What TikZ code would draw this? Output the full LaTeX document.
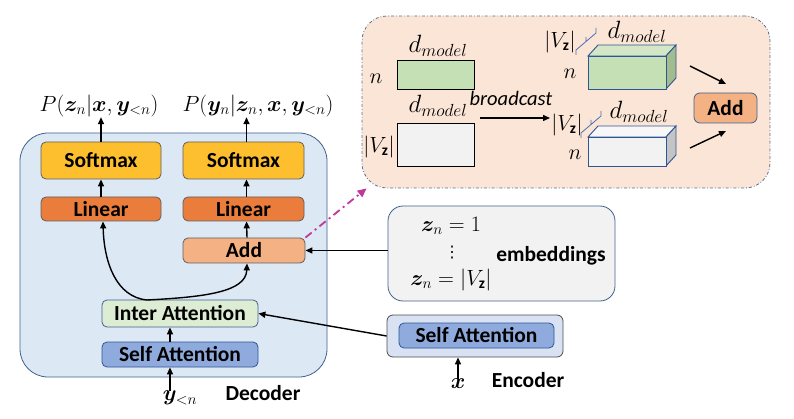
\RequirePackage{fix-cm}
\documentclass[tikz,border=0pt]{standalone}
\usepackage{amsmath}
\usepackage{bm}
\usepackage{fontspec}
\setmainfont{Carlito}
\newfontfamily\dejavufam{DejaVu Sans}
\usetikzlibrary{arrows.meta}
\definecolor{decfill}{HTML}{DDE8F5}
\definecolor{decline}{HTML}{41618F}
\definecolor{smfill}{HTML}{FDBF2E}
\definecolor{linfill}{HTML}{EB7D3C}
\definecolor{addfill}{HTML}{F4B183}
\definecolor{interfill}{HTML}{DDEDD3}
\definecolor{selffill}{HTML}{8FAADC}
\definecolor{encfill}{HTML}{D9E2F3}
\definecolor{embfill}{HTML}{F2F2F2}
\definecolor{panelfill}{HTML}{FBE5D6}
\definecolor{panelline}{HTML}{5B6F8F}
\definecolor{greenfill}{HTML}{C5E0B4}
\definecolor{greentop}{HTML}{D3E7C6}
\definecolor{greenside}{HTML}{A3BC8E}
\definecolor{whitefill}{HTML}{F2F2F2}
\definecolor{whitetop}{HTML}{F7F7F7}
\definecolor{whiteside}{HTML}{C4C4C4}
\definecolor{cubeline}{HTML}{2F5597}
\definecolor{bracecol}{HTML}{4A6FB5}
\definecolor{magentaline}{HTML}{C0399A}
\definecolor{boxline}{HTML}{5F5F5F}
\begin{document}
\begin{tikzpicture}[x=1pt,y=-1pt,
  every node/.style={font=\fontsize{20}{24}\selectfont, inner sep=0pt},
  blk/.style={draw=boxline, line width=0.8pt, rounded corners=5pt, font=\fontsize{21.5}{24}\selectfont\bfseries},
  arr/.style={line width=1.4pt, -{Triangle[length=7pt,width=6pt]}},
  lbl/.style={font=\fontsize{22}{26}\selectfont},
  dlbl/.style={font=\fontsize{25}{28}\selectfont},
  blbl/.style={font=\fontsize{21.5}{24}\selectfont\bfseries},
]
\useasboundingbox (0,0) rectangle (794,419);

% ---------- decoder ----------
\node[draw=decline, fill=decfill, line width=0.8pt, rounded corners=28pt,
      minimum width=307pt, minimum height=244pt] (dec) at (173.5,255) {};
\node[blk, fill=smfill, minimum width=120pt, minimum height=37pt] (smL) at (101,160.5) {Softmax};
\node[blk, fill=smfill, minimum width=121pt, minimum height=37pt] (smR) at (243.5,160.5) {Softmax};
\node[blk, fill=linfill, minimum width=120pt, minimum height=24pt] (linL) at (101,209) {Linear};
\node[blk, fill=linfill, minimum width=121pt, minimum height=24pt] (linR) at (243.5,209) {Linear};
\node[blk, fill=addfill, minimum width=122pt, minimum height=25pt] (addD) at (244,250.5) {Add};
\node[blk, draw=decline, fill=interfill, minimum width=156pt, minimum height=27pt] (inter) at (180,313.5) {Inter Attention};
\node[blk, draw=cubeline, fill=selffill, minimum width=156pt, minimum height=25pt] (selfD) at (180,354.5) {Self Attention};

\node[lbl] (pz) at (99,106) {$P(\bm{z}_n|\bm{x},\bm{y}_{<n})$};
\node[lbl] (py) at (258,106) {$P(\bm{y}_n|\bm{z}_n,\bm{x},\bm{y}_{<n})$};
\node[lbl] (ylab) at (180,398) {$\bm{y}_{<n}$};
\node[blbl] (declab) at (263,393) {Decoder};

\draw[arr] (smL.north) -- (smL.north |- pz.south);
\draw[arr] ([xshift=3pt]smR.north) -- ([xshift=3pt]smR.north |- py.south);
\draw[arr] (linL.north) -- (smL.south);
\draw[arr] ([xshift=3pt]linR.north) -- ([xshift=3pt]smR.south);
\draw[arr] ([xshift=3pt]addD.north) -- ([xshift=3pt]linR.south);
\draw[arr] ([xshift=-10pt]selfD.north) -- ([xshift=-10pt]inter.south);
\draw[arr] ([xshift=-10pt]selfD.south |- ylab.north) -- ([xshift=-10pt]selfD.south);

\coordinate (fork) at (147,300);
\draw[arr] (fork) .. controls (116,297) and (104,262) .. ([xshift=2pt]linL.south);
\draw[arr] (fork) .. controls (205,297) and (246,292) .. ([xshift=3pt]addD.south);

% ---------- embeddings ----------
\node[draw=decline, fill=embfill, line width=0.8pt, rounded corners=15pt,
      minimum width=227pt, minimum height=95pt] (emb) at (501.5,253.5) {};
\node[lbl] (z1) at (451,226) {$\bm{z}_n=1$};
\node[font=\fontsize{16}{16}\selectfont\dejavufam] (vd) at (452,253) {⋮};
\node[lbl] (zV) at (451,280) {$\bm{z}_n=|V_{\mathbf{z}}|$};
\node[blbl] (embtxt) at (551,256) {embeddings};
\draw[arr] (emb.west |- addD.east) -- (addD.east);

% ---------- encoder ----------
\node[draw=boxline!80!black, fill=encfill, line width=0.8pt, rounded corners=6pt,
      minimum width=176pt, minimum height=42pt] (enc) at (475,336) {};
\node[blk, draw=cubeline, fill=selffill, minimum width=155pt, minimum height=25pt] (selfE) at (476.5,335.5) {Self Attention};
\node[lbl] (xlab) at (458,384) {$\bm{x}$};
\node[blbl] (enclab) at (528,380) {Encoder};
\draw[arr] (xlab.north) -- (xlab.north |- enc.south);
\draw[arr] (enc.west) -- (inter.east);

% ---------- top panel ----------
\node[draw=panelline, fill=panelfill, line width=0.8pt, dash dot, rounded corners=25pt,
      minimum width=408pt, minimum height=172pt] (panel) at (566,102) {};
\draw[magentaline, line width=1.8pt, dash pattern=on 8pt off 4pt on 2pt off 4pt, -{Triangle[length=9pt,width=8pt]}]
  (addD.north east) -- ([xshift=5pt]panel.south west);

\node[draw=black, fill=greenfill, line width=0.9pt, minimum width=77pt, minimum height=29pt] (grect) at (435.5,74.5) {};
\node[draw=black, fill=whitefill, line width=0.9pt, minimum width=77pt, minimum height=43pt] (wrect) at (435.5,144.5) {};
\node[dlbl] (dm1) at (438,46) {$d_{model}$};
\node[lbl] (n1) at (376,79) {$n$};
\node[dlbl] (dm2) at (438,106) {$d_{model}$};
\node[lbl] (v1) at (379,147) {$|V_{\mathbf{z}}|$};
\coordinate (bs) at (480,118);
\coordinate (be) at (550,118);
\draw[arr] (bs) -- (be);
\node[font=\fontsize{20.5}{24}\selectfont\itshape] (bc) at (511,98) {broadcast};

% 3D green box
\filldraw[draw=cubeline, fill=greentop, line width=0.9pt] (588,56) -- (598,45) -- (676,45) -- (666,56) -- cycle;
\filldraw[draw=cubeline, fill=greenside, line width=0.9pt] (666,56) -- (676,45) -- (676,78) -- (666,89) -- cycle;
\filldraw[draw=cubeline, fill=greenfill, line width=0.9pt] (588,56) rectangle (666,89);
% 3D white box
\filldraw[draw=cubeline, fill=whitetop, line width=0.9pt] (588,137) -- (598,126) -- (676,126) -- (666,137) -- cycle;
\filldraw[draw=cubeline, fill=whiteside, line width=0.9pt] (666,137) -- (676,126) -- (676,155) -- (666,166) -- cycle;
\filldraw[draw=cubeline, fill=whitefill, line width=0.9pt] (588,137) rectangle (666,166);

\node[lbl] (v2) at (560,42) {$|V_{\mathbf{z}}|$};
\node[lbl] (n2) at (570,74) {$n$};
\node[dlbl] (dm3) at (637,32) {$d_{model}$};
\node[lbl] (v3) at (567,125) {$|V_{\mathbf{z}}|$};
\node[lbl] (n3) at (575,155) {$n$};
\node[dlbl] (dm4) at (639,112) {$d_{model}$};

% depth braces
\draw[bracecol, line width=0.8pt] (576,55) -- (576,50) -- (586,41.5) -- (586,37) (586,41.5) -- (596,33) -- (596,28);
\draw[bracecol, line width=0.8pt] (581,138) -- (581,133) -- (591,124.5) -- (591,120) (591,124.5) -- (601,116) -- (601,111);

\node[draw=decline, fill=addfill, line width=0.8pt, rounded corners=6pt, minimum width=63pt, minimum height=30pt,
      font=\fontsize{21.5}{24}\selectfont\bfseries] (addP) at (725.5,108) {Add};
\coordinate (a1s) at (690,66);
\coordinate (a1e) at (726,84);
\coordinate (a2s) at (690,148);
\coordinate (a2e) at (726,131);
\draw[arr] (a1s) -- (a1e);
\draw[arr] (a2s) -- (a2e);
\end{tikzpicture}
\end{document}
